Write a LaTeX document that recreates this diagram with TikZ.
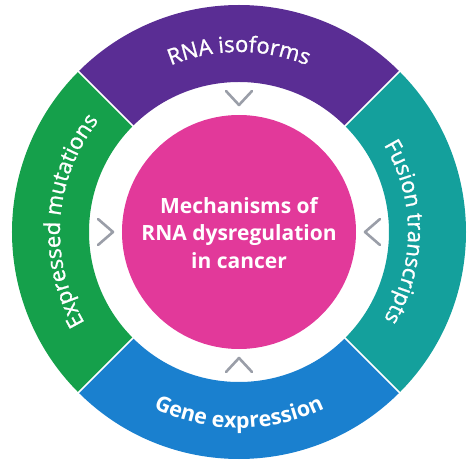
\documentclass[tikz,border=0pt]{standalone}
\usepackage{fontspec}
\setmainfont{Open Sans}
\usetikzlibrary{decorations.text}
\definecolor{cpurple}{HTML}{5A2D94}
\definecolor{cgreen}{HTML}{15A04B}
\definecolor{cblue}{HTML}{1A80CF}
\definecolor{cteal}{HTML}{14A09C}
\definecolor{cpink}{HTML}{E2399A}
\definecolor{cgray}{HTML}{9A9EA8}
\newcommand{\ringfont}{\fontsize{22}{26}\selectfont\addfontfeatures{FakeBold=1.2}}
\begin{document}
\begin{tikzpicture}[
  sep/.style={white, line width=1.6pt},
  chev/.style={cgray, line width=2.6pt, line cap=round, line join=round},
  ringlabel/.style={decorate, decoration={text along path, text align=center, text color=white}},
]
\useasboundingbox (-239pt,-231pt) rectangle (235pt,232pt);
\def\Ro{227pt}
\def\Ri{150pt}
% ring sectors
\fill[cpurple] (45:\Ro) arc[start angle=45, end angle=135, radius=\Ro] -- (135:\Ri) arc[start angle=135, end angle=45, radius=\Ri] -- cycle;
\fill[cgreen] (135:\Ro) arc[start angle=135, end angle=225, radius=\Ro] -- (225:\Ri) arc[start angle=225, end angle=135, radius=\Ri] -- cycle;
\fill[cblue] (225:\Ro) arc[start angle=225, end angle=315, radius=\Ro] -- (315:\Ri) arc[start angle=315, end angle=225, radius=\Ri] -- cycle;
\fill[cteal] (-45:\Ro) arc[start angle=-45, end angle=45, radius=\Ro] -- (45:\Ri) arc[start angle=45, end angle=-45, radius=\Ri] -- cycle;
% separators
\foreach \a in {45,135,225,315} \draw[sep] (\a:148pt) -- (\a:229pt);
% ring labels
\path[ringlabel, decoration={text={|\ringfont|RNA isoforms}}] (160:180pt) arc[start angle=160, end angle=20, radius=180pt];
\path[ringlabel, decoration={text={|\ringfont|Fusion transcripts}}] (70:169pt) arc[start angle=70, end angle=-70, radius=169pt];
\path[ringlabel, decoration={text={|\fontsize{21.5}{26}\selectfont\bfseries|Gene expression}}] (200:196pt) arc[start angle=200, end angle=340, radius=196pt];
\path[ringlabel, decoration={text={|\ringfont|Expressed mutations}}] (246:179pt) arc[start angle=246, end angle=106, radius=179pt];
% center
\node[circle, fill=cpink, minimum size=234pt, inner sep=0pt] (hub) at (0,0) {};
\node[text=white, font=\bfseries\fontsize{21}{27.5}\selectfont, align=center] (title) at (0,-1pt) {Mechanisms of\\RNA dysregulation\\in cancer};
% chevrons pointing to the hub
\draw[chev] (-13pt,141pt) -- (0,127pt) -- (13pt,141pt);
\draw[chev] (-13pt,-140pt) -- (0,-126pt) -- (13pt,-140pt);
\draw[chev] (-141pt,13pt) -- (-126pt,0) -- (-141pt,-13pt);
\draw[chev] (141pt,13pt) -- (126pt,0) -- (141pt,-13pt);
\end{tikzpicture}
\end{document}
